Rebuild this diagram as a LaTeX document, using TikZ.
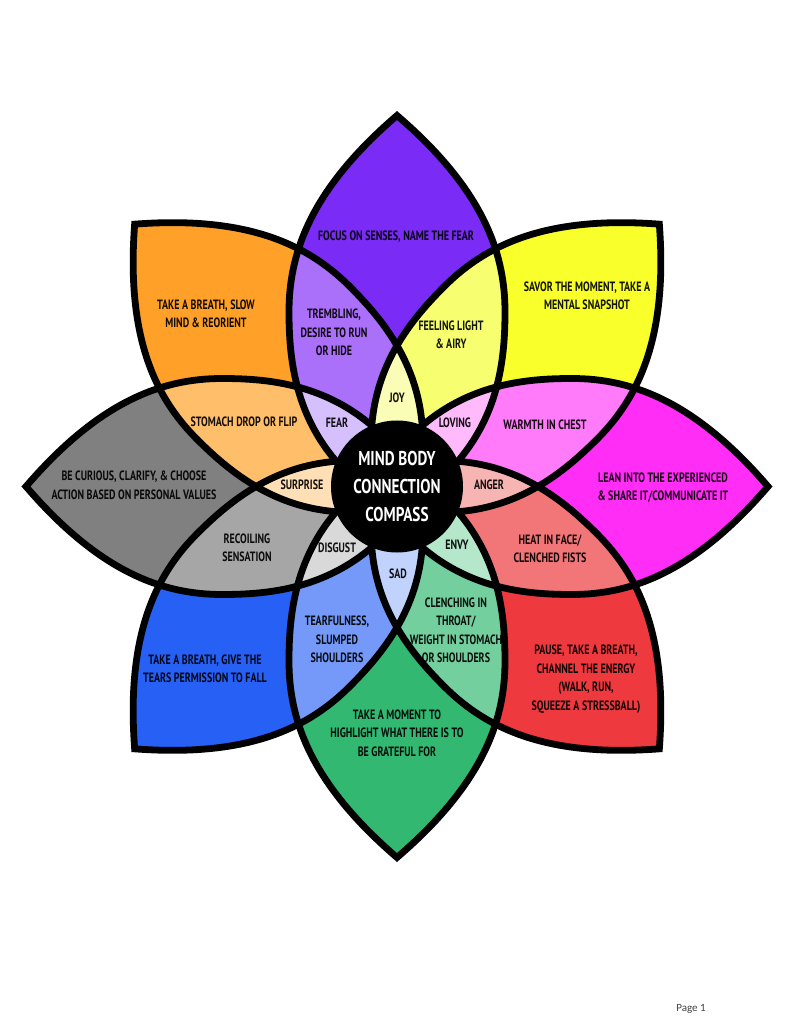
\documentclass[tikz,border=0pt]{standalone}
\usepackage{fontspec}
\setmainfont{Carlito}
\newfontfamily\hand[FakeStretch=0.74]{PT Sans}
\newfontfamily\handb[FakeStretch=0.76]{PT Sans}
\definecolor{pA}{HTML}{7A2BF5}\definecolor{pB}{HTML}{AA70FA}\definecolor{pC}{HTML}{D5BFFD}
\definecolor{yA}{HTML}{F8FF2B}\definecolor{yB}{HTML}{F7FF70}\definecolor{yC}{HTML}{F9FDB5}
\definecolor{mA}{HTML}{FF2DF5}\definecolor{mB}{HTML}{FF7BFA}\definecolor{mC}{HTML}{FFBAFC}
\definecolor{rA}{HTML}{EE3A3E}\definecolor{rB}{HTML}{F27678}\definecolor{rC}{HTML}{F6B5B3}
\definecolor{gA}{HTML}{33B872}\definecolor{gB}{HTML}{74CF9E}\definecolor{gC}{HTML}{B5E8CB}
\definecolor{bA}{HTML}{2760F5}\definecolor{bB}{HTML}{7499F8}\definecolor{bC}{HTML}{C1D2FD}
\definecolor{kA}{HTML}{808080}\definecolor{kB}{HTML}{A6A6A6}\definecolor{kC}{HTML}{D9D9D9}
\definecolor{oA}{HTML}{FFA128}\definecolor{oB}{HTML}{FFBE69}\definecolor{oC}{HTML}{FFDFB5}
\newcommand\petalshape{(371,0) .. controls (298,85) and (235,108) .. (175,108) .. controls (125,108) and (55,102) .. (0,35) -- (0,-35) .. controls (55,-102) and (125,-108) .. (175,-108) .. controls (235,-108) and (298,-85) .. (371,0) -- cycle}
\tikzset{
  handtext/.style={font=\hand\bfseries\fontsize{13.5}{18.5}\selectfont, align=center, inner sep=0pt, text=black, text opacity=0.92},
  hubtext/.style={circle, fill=black, minimum size=132pt, inner sep=0pt, align=center, text=white, font=\handb\bfseries\fontsize{20}{28}\selectfont},
  pagetext/.style={font=\fontsize{11}{13}\selectfont, text=black!75, inner sep=0pt},
  petalline/.style={draw=black, line width=6.8pt, miter limit=10, line join=miter}
}
\begin{document}
\begin{tikzpicture}[x=1pt,y=1pt]
\useasboundingbox (-397,-541.5) rectangle (397,486.5);
\fill[white] (-397,-541.5) rectangle (397,486.5);
% saturated petals
\foreach \a/\c in {90/pA,45/yA,0/mA,-45/rA,-90/gA,-135/bA,180/kA,135/oA}{
  \fill[\c,rotate=\a] \petalshape;
}
% first ring: petal a overlap with petal a+45
\foreach \a/\c in {45/yB,0/mB,-45/rB,-90/gB,-135/bB,180/kB,135/oB,90/pB}{
  \begin{scope}
    \clip[rotate=\a] \petalshape;
    \pgfmathsetmacro\b{\a+45}
    \fill[\c,rotate=\b] \petalshape;
  \end{scope}
}
% second ring: petal d-45 overlap with petal d+45
\foreach \d/\c in {90/yC,45/mC,0/rC,-45/gC,-90/bC,-135/kC,180/oC,135/pC}{
  \begin{scope}
    \pgfmathsetmacro\e{\d-45}
    \clip[rotate=\e] \petalshape;
    \pgfmathsetmacro\b{\d+45}
    \fill[\c,rotate=\b] \petalshape;
  \end{scope}
}
% outlines
\foreach \a in {90,45,0,-45,-90,-135,180,135}{
  \path[petalline,rotate=\a] \petalshape;
}
\node[hubtext] (hub) at (0,0) {MIND BODY\\CONNECTION\\COMPASS};
\begin{scope}[shift={(-397,486.5)},y=-1pt]
\node[handtext] (t1) at (396,237) {FOCUS ON SENSES, NAME THE FEAR};
\node[handtext] (t2) at (206,314) {TAKE A BREATH, SLOW\\MIND \& REORIENT};
\node[handtext] (t3) at (334,332.5) {TREMBLING,\\DESIRE TO RUN\\OR HIDE};
\node[handtext] (t4) at (451,335) {FEELING LIGHT\\\& AIRY};
\node[handtext] (t5) at (587,296) {SAVOR THE MOMENT, TAKE A\\MENTAL SNAPSHOT};
\node[handtext] (t6) at (397,398) {JOY};
\node[handtext] (t7) at (337,423) {FEAR};
\node[handtext] (t8) at (455,423) {LOVING};
\node[handtext] (t9) at (545,425) {WARMTH IN CHEST};
\node[handtext] (t10) at (244,422) {STOMACH DROP OR FLIP};
\node[handtext] (t11) at (663,487.5) {LEAN INTO THE EXPERIENCED\\\& SHARE IT/COMMUNICATE IT};
\node[handtext] (t12) at (134,485.5) {BE CURIOUS, CLARIFY, \& CHOOSE\\ACTION BASED ON PERSONAL VALUES};
\node[handtext] (t13) at (302,485) {SURPRISE};
\node[handtext] (t14) at (489,485) {ANGER};
\node[handtext] (t15) at (247,548) {RECOILING\\SENSATION};
\node[handtext] (t16) at (337,548) {DISGUST};
\node[handtext] (t17) at (457,545) {ENVY};
\node[handtext] (t18) at (550,549) {HEAT IN FACE/\\CLENCHED FISTS};
\node[handtext] (t19) at (398,574) {SAD};
\node[handtext] (t20) at (456,630.5) {CLENCHING IN\\THROAT/\\WEIGHT IN STOMACH\\OR SHOULDERS};
\node[handtext] (t21) at (337,639.5) {TEARFULNESS,\\SLUMPED\\SHOULDERS};
\node[handtext] (t22) at (205,669) {TAKE A BREATH, GIVE THE\\TEARS PERMISSION TO FALL};
\node[handtext] (t23) at (586,679) {PAUSE, TAKE A BREATH,\\CHANNEL THE ENERGY\\(WALK, RUN,\\SQUEEZE A STRESSBALL)};
\node[handtext] (t24) at (397,733) {TAKE A MOMENT TO\\HIGHLIGHT WHAT THERE IS TO\\BE GRATEFUL FOR};
\node[pagetext] (page) at (691,1009) {Page 1};
\end{scope}
\end{tikzpicture}
\end{document}
